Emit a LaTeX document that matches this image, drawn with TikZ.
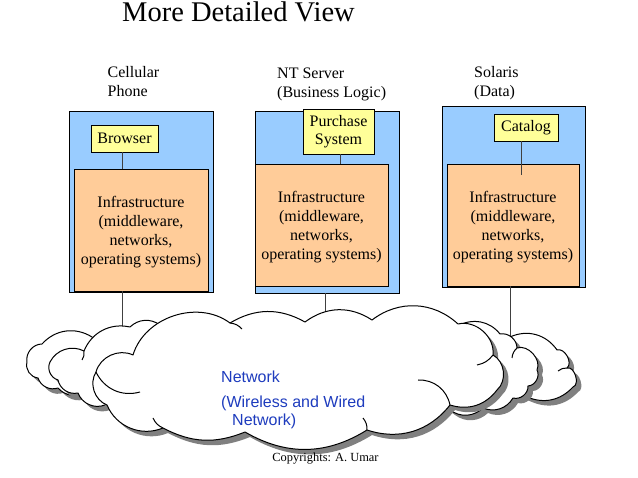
\documentclass[tikz,border=0pt]{standalone}
\usepackage{fontspec}
\setmainfont{Liberation Serif}
\newfontfamily\netfont{Liberation Sans}
\definecolor{boxblue}{RGB}{153,204,255}
\definecolor{boxorange}{RGB}{255,204,153}
\definecolor{boxyellow}{RGB}{255,255,153}
\definecolor{netblue}{RGB}{30,60,190}
\definecolor{shadowgray}{RGB}{128,128,128}
\tikzset{
  hostbox/.style={draw=black, line width=0.8pt, fill=boxblue, inner sep=0pt},
  infra/.style={draw=black, line width=0.8pt, fill=boxorange, inner sep=0pt, align=center, text depth=0pt, font=\fontsize{16}{19}\selectfont},
  appbox/.style={draw=black, line width=0.8pt, fill=boxyellow, inner sep=0pt, align=center, font=\fontsize{16}{18}\selectfont},
  link/.style={draw=black!75, line width=0.7pt},
  lbl/.style={anchor=base west, align=left, font=\fontsize{16}{19}\selectfont, inner sep=0pt},
  cloudbody/.style={draw=black, line width=1pt, fill=white, line join=round},
  cloudshade/.style={fill=shadowgray, draw=none},
  puff/.style={draw=black, line width=1pt},
  pathA/.style={insert path={(27,362) to[bend left=50] (42,344) to[bend left=40] (92,337) -- (112,355) -- (85,392) to[bend left=40] (58,388) to[bend left=45] (38,378) to[bend left=50] (27,362) -- cycle}},
  pathB/.style={insert path={(50,362) to[bend left=45] (84,351) to[bend left=40] (130,327) to[bend left=40] (160,325) -- (178,360) -- (140,400) -- (105,405) to[bend left=45] (78,393) to[bend left=45] (58,380) to[bend left=50] (50,362) -- cycle}},
  pathC/.style={insert path={(458,326) to[bend left=41] (500,334) to[bend left=50] (517,348) to[bend left=67] (537,370) to[bend left=58] (528,386) to[bend left=55] (513,398) to[bend left=41] (483,408) to[bend left=40] (450,410) -- (430,395) -- (440,340) -- (458,326) -- cycle}},
  pathD/.style={insert path={(510,337) to[bend left=40] (557,350) to[bend left=80] (567,368) to[bend left=90] (573,387) to[bend left=35] (527,397) -- (510,390) -- (505,345) -- (510,337) -- cycle}},
  pathM/.style={insert path={(96,372) to[bend left=50] (133,355) to[bend left=55] (230,323) to[bend left=30] (305,322) to[bend left=35] (372,320) to[bend left=40] (458,324) to[bend left=55] (493,355) to[bend left=55] (497,390) to[bend left=35] (450,405) to[bend left=35] (367,430) to[bend left=31] (245,432) to[bend left=25] (163,428) to[bend left=45] (107,405) to[bend left=50] (96,372) -- cycle}},
}
\begin{document}
\begin{tikzpicture}[x=1pt,y=-1pt]
\useasboundingbox[fill=white] (0,0) rectangle (638,478);

% title
\node[anchor=base west, inner sep=0pt, font=\fontsize{28.5}{31}\selectfont] (title) at (122,22) {More Detailed View};

% machine labels (anchor = baseline of last line)
\node[lbl] (lcell) at (107.5,96.7) {Cellular\\Phone};
\node[lbl] (lnt) at (277,98) {NT Server\\(Business Logic)};
\node[lbl] (lsol) at (474,97) {Solaris\\(Data)};

% host boxes
\node[hostbox, minimum width=144pt, minimum height=181pt] (lhost) at (141,201.5) {};
\node[hostbox, minimum width=144pt, minimum height=182pt] (mhost) at (327,202) {};
\node[hostbox, minimum width=143pt, minimum height=181pt] (rhost) at (513.5,196.5) {};

% infrastructure boxes
\node[infra, minimum width=134pt, minimum height=122pt] (linf) at (141,230) {Infrastructure\\(middleware,\\networks,\\operating systems)};
\node[infra, minimum width=133pt, minimum height=122pt] (minf) at (321.5,225) {Infrastructure\\(middleware,\\networks,\\operating systems)};
\node[infra, minimum width=132pt, minimum height=122pt] (rinf) at (513,225) {Infrastructure\\(middleware,\\networks,\\operating systems)};

% application boxes
\node[appbox, minimum width=67pt, minimum height=27pt] (browser) at (124.5,138.5) {Browser};
\node[appbox, minimum width=71pt, minimum height=45pt] (purchase) at (338.5,131.5) {Purchase\\System};
\node[appbox, minimum width=64pt, minimum height=27pt] (catalog) at (526,127.5) {Catalog};

% app-to-infrastructure links
\draw[link] ([xshift=-2.5pt]browser.south) -- ([xshift=-2.5pt]browser.south |- linf.north);
\draw[link] ([xshift=1.5pt]purchase.south) -- ([xshift=1.5pt]purchase.south |- minf.north);
\coordinate (catend) at ([xshift=-5pt,yshift=-34pt]catalog.south);
\draw[link] ([xshift=-5pt]catalog.south) -- (catend);

% links down to the network
\coordinate (lnet) at (122,330);
\coordinate (mnet) at (325,318);
\coordinate (rnet) at (510,340);
\draw[link] (lnet |- linf.south) -- (lnet);
\draw[link] (mnet |- mhost.south) -- (mnet);
\draw[link] (rnet |- rinf.south) -- (rnet);

% network cloud (back to front)
\fill[cloudshade, shift={(5,5)}, pathA];
\path[cloudbody, pathA];
\fill[cloudshade, shift={(5,5)}, pathD];
\path[cloudbody, pathD];
\fill[cloudshade, shift={(5,5)}, pathB];
\path[cloudbody, pathB];
\fill[cloudshade, shift={(5,5)}, pathC];
\path[cloudbody, pathC];
\fill[cloudshade, shift={(5,5)}, pathM];
\path[cloudbody, pathM];

% puff strokes
\draw[puff] (96,372) to[bend right=40] (140,392);
\draw[puff] (230,323) to[bend left=20] (242,329);
\draw[puff] (493,355) to[bend left=20] (477,365);
\draw[puff] (418,380) to[bend left=40] (450,405);
\draw[puff] (367,430) to[bend right=20] (363,418);
\draw[puff] (163,428) to[bend left=20] (153,418);
\draw[puff] (84,351) to[bend left=20] (82,360);
\draw[puff] (517,348) to[bend right=20] (512,358);
\draw[puff] (567,368) to[bend right=20] (558,371);

% network label (anchor = baseline of last line)
\node[anchor=base west, inner sep=0pt, align=left, text=netblue, font=\netfont\fontsize{16}{18}\selectfont] (net) at (221,426) {Network\\[7pt](Wireless and Wired\\\hspace*{11pt}Network)};

% copyright
\node[anchor=base, inner sep=0pt, font=\fontsize{12.4}{14}\selectfont] (copy) at (325.5,461.7) {Copyrights: A. Umar};
\end{tikzpicture}
\end{document}
